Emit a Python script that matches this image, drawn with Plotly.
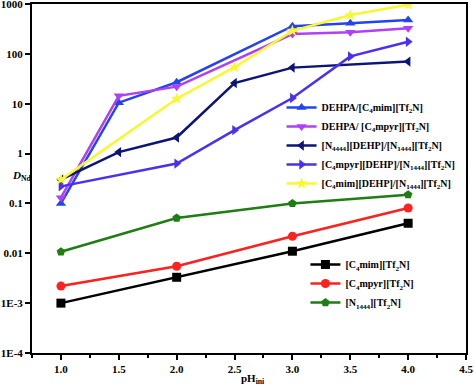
import plotly.graph_objects as go

# ---- data ----
x_full = [1.0, 1.5, 2.0, 3.0, 3.5, 4.0]
dehpa_c4mim = [0.10, 10.5, 27, 360, 410, 480]
dehpa_c4mpyr = [0.13, 14.4, 22, 250, 270, 325]

x_n4444 = [1.0, 1.5, 2.0, 2.5, 3.0, 4.0]
n4444_dehp = [0.30, 1.07, 2.1, 26, 53, 70]

x_six = [1.0, 2.0, 2.5, 3.0, 3.5, 4.0]
c4mpyr_dehp = [0.22, 0.63, 2.95, 13, 89, 175]
c4mim_dehp = [0.30, 12.6, 54, 290, 600, 970]

x_four = [1.0, 2.0, 3.0, 4.0]
c4mim_tf2n = [0.0010, 0.0033, 0.011, 0.040]
c4mpyr_tf2n = [0.0022, 0.0055, 0.022, 0.081]
n1444_tf2n = [0.0107, 0.051, 0.10, 0.15]

x_ticks = [1.0, 1.5, 2.0, 2.5, 3.0, 3.5, 4.0, 4.5]
x_ticktext = ["1.0", "1.5", "2.0", "2.5", "3.0", "3.5", "4.0", "4.5"]
y_ticks = [1e-4, 1e-3, 1e-2, 1e-1, 1, 10, 100, 1000]
y_ticktext = ["1E-4", "1E-3", "0.01", "0.1", "1", "10", "100", "1000"]

series = [
    (x_full, dehpa_c4mim, "DEHPA/[C<sub>4</sub>mim][Tf<sub>2</sub>N]", "#2244ee", "triangle-up", "legend"),
    (x_full, dehpa_c4mpyr, "DEHPA/ [C<sub>4</sub>mpyr][Tf<sub>2</sub>N]", "#b040f8", "triangle-down", "legend"),
    (x_n4444, n4444_dehp, "[N<sub>4444</sub>][DEHP]/[N<sub>1444</sub>][Tf<sub>2</sub>N]", "#0c1478", "triangle-left", "legend"),
    (x_six, c4mpyr_dehp, "[C<sub>4</sub>mpyr][DEHP]/[N<sub>1444</sub>][Tf<sub>2</sub>N]", "#4a30f0", "triangle-right", "legend"),
    (x_six, c4mim_dehp, "[C<sub>4</sub>mim][DEHP]/[N<sub>1444</sub>][Tf<sub>2</sub>N]", "#f8f830", "star", "legend"),
    (x_four, c4mim_tf2n, "[C<sub>4</sub>mim][Tf<sub>2</sub>N]", "#000000", "square", "legend2"),
    (x_four, c4mpyr_tf2n, "[C<sub>4</sub>mpyr][Tf<sub>2</sub>N]", "#ff2020", "circle", "legend2"),
    (x_four, n1444_tf2n, "[N<sub>1444</sub>][Tf<sub>2</sub>N]", "#1e7e12", "pentagon", "legend2"),
]

fig = go.Figure()
for xs, ys, name, color, sym, leg in series:
    fig.add_trace(go.Scatter(
        x=xs, y=ys, name=name, mode="lines+markers",
        line=dict(color=color, width=2.5),
        marker=dict(symbol=sym, size=9, color=color),
        legend=leg,
    ))

font_serif = "Liberation Serif"
fig.update_layout(
    width=474, height=388,
    margin=dict(l=32, r=8, t=4, b=35, autoexpand=False),
    paper_bgcolor="white", plot_bgcolor="white",
    font=dict(family=font_serif, size=11, color="black"),
    legend=dict(x=0.575, y=0.745, xanchor="left", yanchor="top",
                font=dict(family=font_serif, size=10, color="black", weight="bold"),
                bgcolor="rgba(0,0,0,0)", tracegroupgap=0, itemwidth=30),
    legend2=dict(x=0.63, y=0.295, xanchor="left", yanchor="top",
                 font=dict(family=font_serif, size=10, color="black", weight="bold"),
                 bgcolor="rgba(0,0,0,0)", tracegroupgap=0, itemwidth=30),
    xaxis=dict(range=[0.75, 4.5], tickvals=x_ticks, ticktext=x_ticktext,
               ticks="outside", ticklen=5, tickwidth=2, tickcolor="black",
               showline=True, linewidth=2, linecolor="black", mirror=True,
               showgrid=False, zeroline=False, automargin=False,
               ticklabeloverflow="allow",
               tickfont=dict(family=font_serif, size=11, weight="bold"),
               minor=dict(dtick=0.25, tick0=0.75, ticks="outside", ticklen=3, tickwidth=1.5, tickcolor="black")),
    yaxis=dict(type="log", range=[-4.0005, 3.0005], tickvals=y_ticks, ticktext=y_ticktext,
               ticks="outside", ticklen=5, tickwidth=2, tickcolor="black",
               showline=True, linewidth=2, linecolor="black", mirror=True,
               showgrid=False, zeroline=False, automargin=False,
               ticklabeloverflow="allow",
               tickfont=dict(family=font_serif, size=11, weight="bold")),
)

fig.add_annotation(xref="paper", yref="paper", x=-0.023, y=0.507, xanchor="center", yanchor="middle",
                   text="<b><i>D</i></b><sub><b>Nd</b></sub>", showarrow=False,
                   font=dict(family=font_serif, size=11, color="black"))
fig.add_annotation(xref="paper", yref="paper", x=0.51, y=-0.075, xanchor="center", yanchor="middle",
                   text="<b>pH</b><sub><b>ini</b></sub>", showarrow=False,
                   font=dict(family=font_serif, size=11, color="black"))

fig.write_html("out.html", config={"displayModeBar": False},
               post_script="document.body.style.margin='0';document.body.style.overflow='hidden';")
